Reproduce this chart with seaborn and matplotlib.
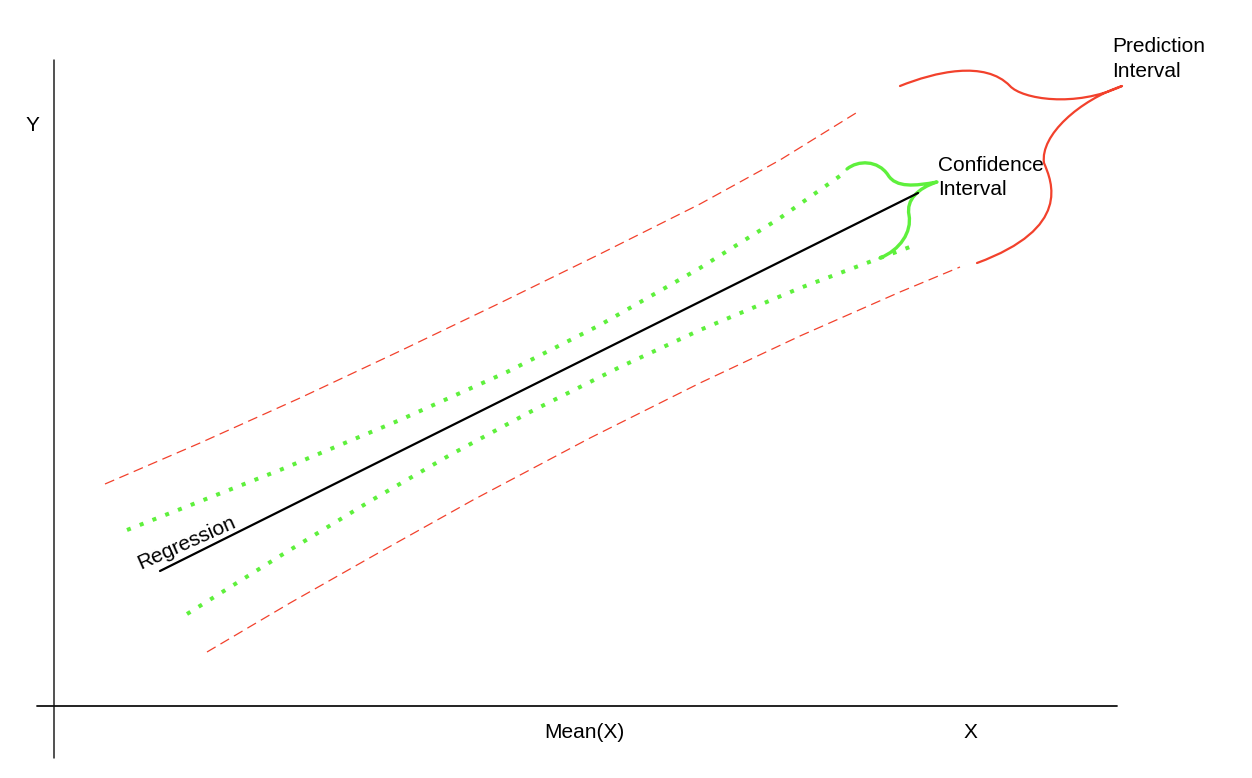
import numpy as np
import pandas as pd
import seaborn as sns
import matplotlib.pyplot as plt
from matplotlib.path import Path
from matplotlib.patches import PathPatch

# diagram coordinates (pixels, y grows downwards)
reg_x = [160, 918]
reg_y = [571, 193]

ci_upper_x = [127, 280, 400, 507, 600, 700, 780, 847]
ci_upper_y = [530, 470, 420, 372, 325, 268, 218, 171]
ci_lower_x = [187, 280, 372, 450, 530, 620, 700, 800, 880, 918]
ci_lower_y = [614, 556, 500, 455, 412, 367, 330, 288, 258, 244]

pi_upper_x = [105, 200, 300, 400, 500, 600, 700, 780, 856]
pi_upper_y = [484, 443, 398, 351, 303, 254, 204, 160, 113]
pi_lower_x = [207, 290, 380, 473, 590, 700, 800, 900, 960]
pi_lower_y = [652, 603, 552, 500, 438, 383, 336, 292, 267]

# brace outlines as cubic bezier vertices (start, ctrl, ctrl, end, ctrl, ctrl, end ...)
ci_brace_x = [847, 858, 878, 888, 896, 915, 937, 918, 906, 909, 912, 900, 880]
ci_brace_y = [169, 160, 160, 175, 188, 186, 182, 188, 200, 215, 232, 250, 258]

pi_brace_x = [900, 935, 985, 1010, 1022, 1075, 1122, 1080, 1040, 1044, 1052, 1072, 977]
pi_brace_y = [86, 72, 60, 86, 99, 108, 86, 100, 135, 163, 182, 228, 263]

axis_v_x = [54, 54]
axis_v_y = [60, 758]
axis_h_x = [37, 1117]
axis_h_y = [706, 706]

green = "#5ef03c"
red = "#f2412c"

sns.set_style("white")
plt.rcParams["font.family"] = ["Liberation Sans", "DejaVu Sans"]
plt.rcParams["text.color"] = "black"

fig = plt.figure(figsize=(12.52, 7.78), dpi=100)
ax = fig.add_axes([0, 0, 1, 1])

# axes of the sketch
sns.lineplot(x=axis_v_x, y=axis_v_y, color="#222222", linewidth=1.1, ax=ax, sort=False, estimator=None)
sns.lineplot(x=axis_h_x, y=axis_h_y, color="#111111", linewidth=1.3, ax=ax, sort=False, estimator=None)

# regression line
sns.lineplot(x=reg_x, y=reg_y, color="black", linewidth=1.6, ax=ax, sort=False, estimator=None)

# confidence band (dotted green)
for xs, ys in [(ci_upper_x, ci_upper_y), (ci_lower_x, ci_lower_y)]:
    sns.lineplot(x=xs, y=ys, color=green, linewidth=2.9, linestyle=(0, (1, 2.4)),
                 ax=ax, sort=False, estimator=None)

# prediction band (dashed red)
for xs, ys in [(pi_upper_x, pi_upper_y), (pi_lower_x, pi_lower_y)]:
    sns.lineplot(x=xs, y=ys, color=red, linewidth=0.9, linestyle=(0, (8, 4.5)),
                 ax=ax, sort=False, estimator=None)


# braces
def brace(xs, ys, color, lw):
    codes = [Path.MOVETO] + [Path.CURVE4] * (len(xs) - 1)
    path = Path(np.column_stack([xs, ys]), codes)
    ax.add_patch(PathPatch(path, facecolor="none", edgecolor=color, linewidth=lw,
                           capstyle="round", joinstyle="round"))


brace(ci_brace_x, ci_brace_y, green, 2.4)
brace(pi_brace_x, pi_brace_y, red, 1.6)

# labels
fs = 15
ax.text(32, 125, "Y", fontsize=fs, ha="center", va="center")
ax.text(584, 732, "Mean(X)", fontsize=fs, ha="center", va="center")
ax.text(970, 732, "X", fontsize=fs, ha="center", va="center")
ax.text(141, 569, "Regression", fontsize=fs, ha="left", va="baseline",
        rotation=24, rotation_mode="anchor")
ax.text(938, 171, "Confidence", fontsize=fs, ha="left", va="baseline")
ax.text(938, 195, "Interval", fontsize=fs, ha="left", va="baseline")
ax.text(1112, 52, "Prediction", fontsize=fs, ha="left", va="baseline")
ax.text(1112, 77, "Interval", fontsize=fs, ha="left", va="baseline")

ax.set_xlim(0, 1252)
ax.set_ylim(778, 0)
ax.axis("off")

fig.savefig("out.png", dpi=100, facecolor="white")
